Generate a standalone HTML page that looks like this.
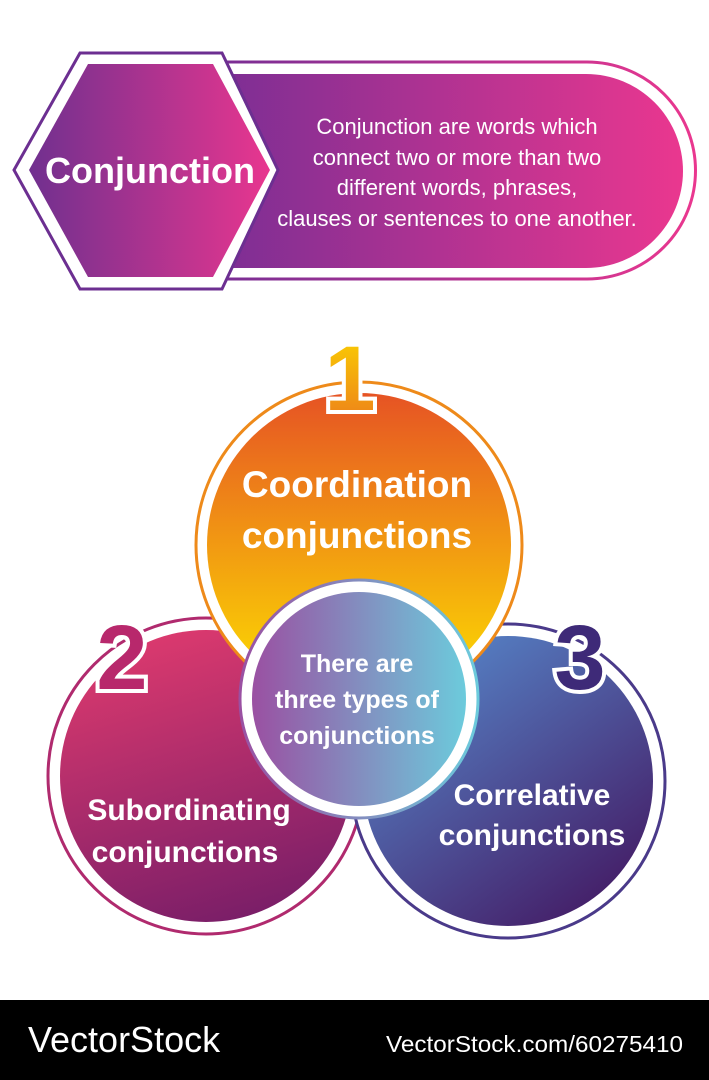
<!DOCTYPE html>
<html><head><meta charset="utf-8"><style>
html,body{margin:0;padding:0;background:#fff;}
svg{display:block}
text{font-family:"Liberation Sans",sans-serif;}
</style></head><body>
<svg width="709" height="1080" viewBox="0 0 709 1080" xmlns="http://www.w3.org/2000/svg">
<defs>
<linearGradient id="hd" x1="0" x2="1" y1="0" y2="0"><stop offset="0" stop-color="#7a2e94"/><stop offset="1" stop-color="#ea378f"/></linearGradient>
<linearGradient id="hx" x1="0" x2="1" y1="0" y2="0"><stop offset="0" stop-color="#70308f"/><stop offset="1" stop-color="#e8368f"/></linearGradient>
<linearGradient id="c1" x1="0" x2="0" y1="0" y2="1"><stop offset="0" stop-color="#e65324"/><stop offset="1" stop-color="#fde000"/></linearGradient>
<linearGradient id="n1" x1="0" x2="0" y1="0" y2="1"><stop offset="0" stop-color="#fbd400"/><stop offset="1" stop-color="#ec7a1c"/></linearGradient>
<linearGradient id="c2" x1="0.3" x2="0.6" y1="0" y2="1"><stop offset="0" stop-color="#dd3a6e"/><stop offset="1" stop-color="#7a1e68"/></linearGradient>
<linearGradient id="c3" x1="0.2" x2="0.8" y1="0.1" y2="0.9"><stop offset="0" stop-color="#5580c4"/><stop offset="1" stop-color="#45226b"/></linearGradient>
<linearGradient id="cc" x1="0" x2="1" y1="0" y2="0"><stop offset="0" stop-color="#9a50a2"/><stop offset="1" stop-color="#6ccbdc"/></linearGradient>
</defs>
<path d="M225 62 H587 A108.5 108.5 0 0 1 587 279 H225 Z" fill="#fff" stroke="url(#hd)" stroke-width="3"/>
<path d="M210 74 H586 A97 97 0 0 1 586 268 H210 Z" fill="url(#hd)"/>
<polygon points="14,170 80,53 222,53 278,170 222,289 80,289" fill="#fff" stroke="#6c2f91" stroke-width="3"/>
<polygon points="29,170 88,64 213,64 270,170 213,277 88,277" fill="url(#hx)"/>
<text x="150" y="183" font-size="36" font-weight="bold" fill="#fff" text-anchor="middle">Conjunction</text>
<g font-size="22" fill="#fff" text-anchor="middle">
<text x="457" y="134">Conjunction are words which</text>
<text x="457" y="165">connect two or more than two</text>
<text x="457" y="195">different words, phrases,</text>
<text x="457" y="226">clauses or sentences to one another.</text>
</g>
<circle cx="206" cy="776" r="158" fill="#fff" stroke="#b02a6e" stroke-width="3"/>
<circle cx="206" cy="776" r="146" fill="url(#c2)"/>
<circle cx="508" cy="781" r="157" fill="#fff" stroke="#4a3a8a" stroke-width="3"/>
<circle cx="508" cy="781" r="145" fill="url(#c3)"/>
<circle cx="359" cy="545" r="163" fill="#fff" stroke="#ee8a1a" stroke-width="3"/>
<circle cx="359" cy="545" r="152" fill="url(#c1)"/>
<circle cx="359" cy="699" r="119" fill="#fff" stroke="url(#cc)" stroke-width="3"/>
<circle cx="359" cy="699" r="107" fill="url(#cc)"/>
<g font-weight="bold" font-size="92" stroke="#fff" stroke-width="8" paint-order="stroke" text-anchor="middle">
<text x="350" y="410" fill="url(#n1)">1</text>
<text x="122" y="689" fill="#b8286c">2</text>
<text x="580" y="689" fill="#3e2a78">3</text>
</g>
<g fill="#fff" font-weight="bold" text-anchor="middle">
<text x="357" y="497" font-size="37">Coordination</text>
<text x="357" y="548" font-size="37">conjunctions</text>
<text x="189" y="820" font-size="30">Subordinating</text>
<text x="185" y="862" font-size="30">conjunctions</text>
<text x="532" y="805" font-size="30">Correlative</text>
<text x="532" y="845" font-size="30">conjunctions</text>
<text x="357" y="672" font-size="25">There are</text>
<text x="357" y="708" font-size="25">three types of</text>
<text x="357" y="744" font-size="25">conjunctions</text>
</g>
<rect x="0" y="1000" width="709" height="80" fill="#000"/>
<text x="28" y="1052" font-size="36" fill="#fff">VectorStock</text>
<text x="386" y="1052" font-size="23" fill="#fff" textLength="297" lengthAdjust="spacingAndGlyphs">VectorStock.com/60275410</text>
</svg>
</body></html>
